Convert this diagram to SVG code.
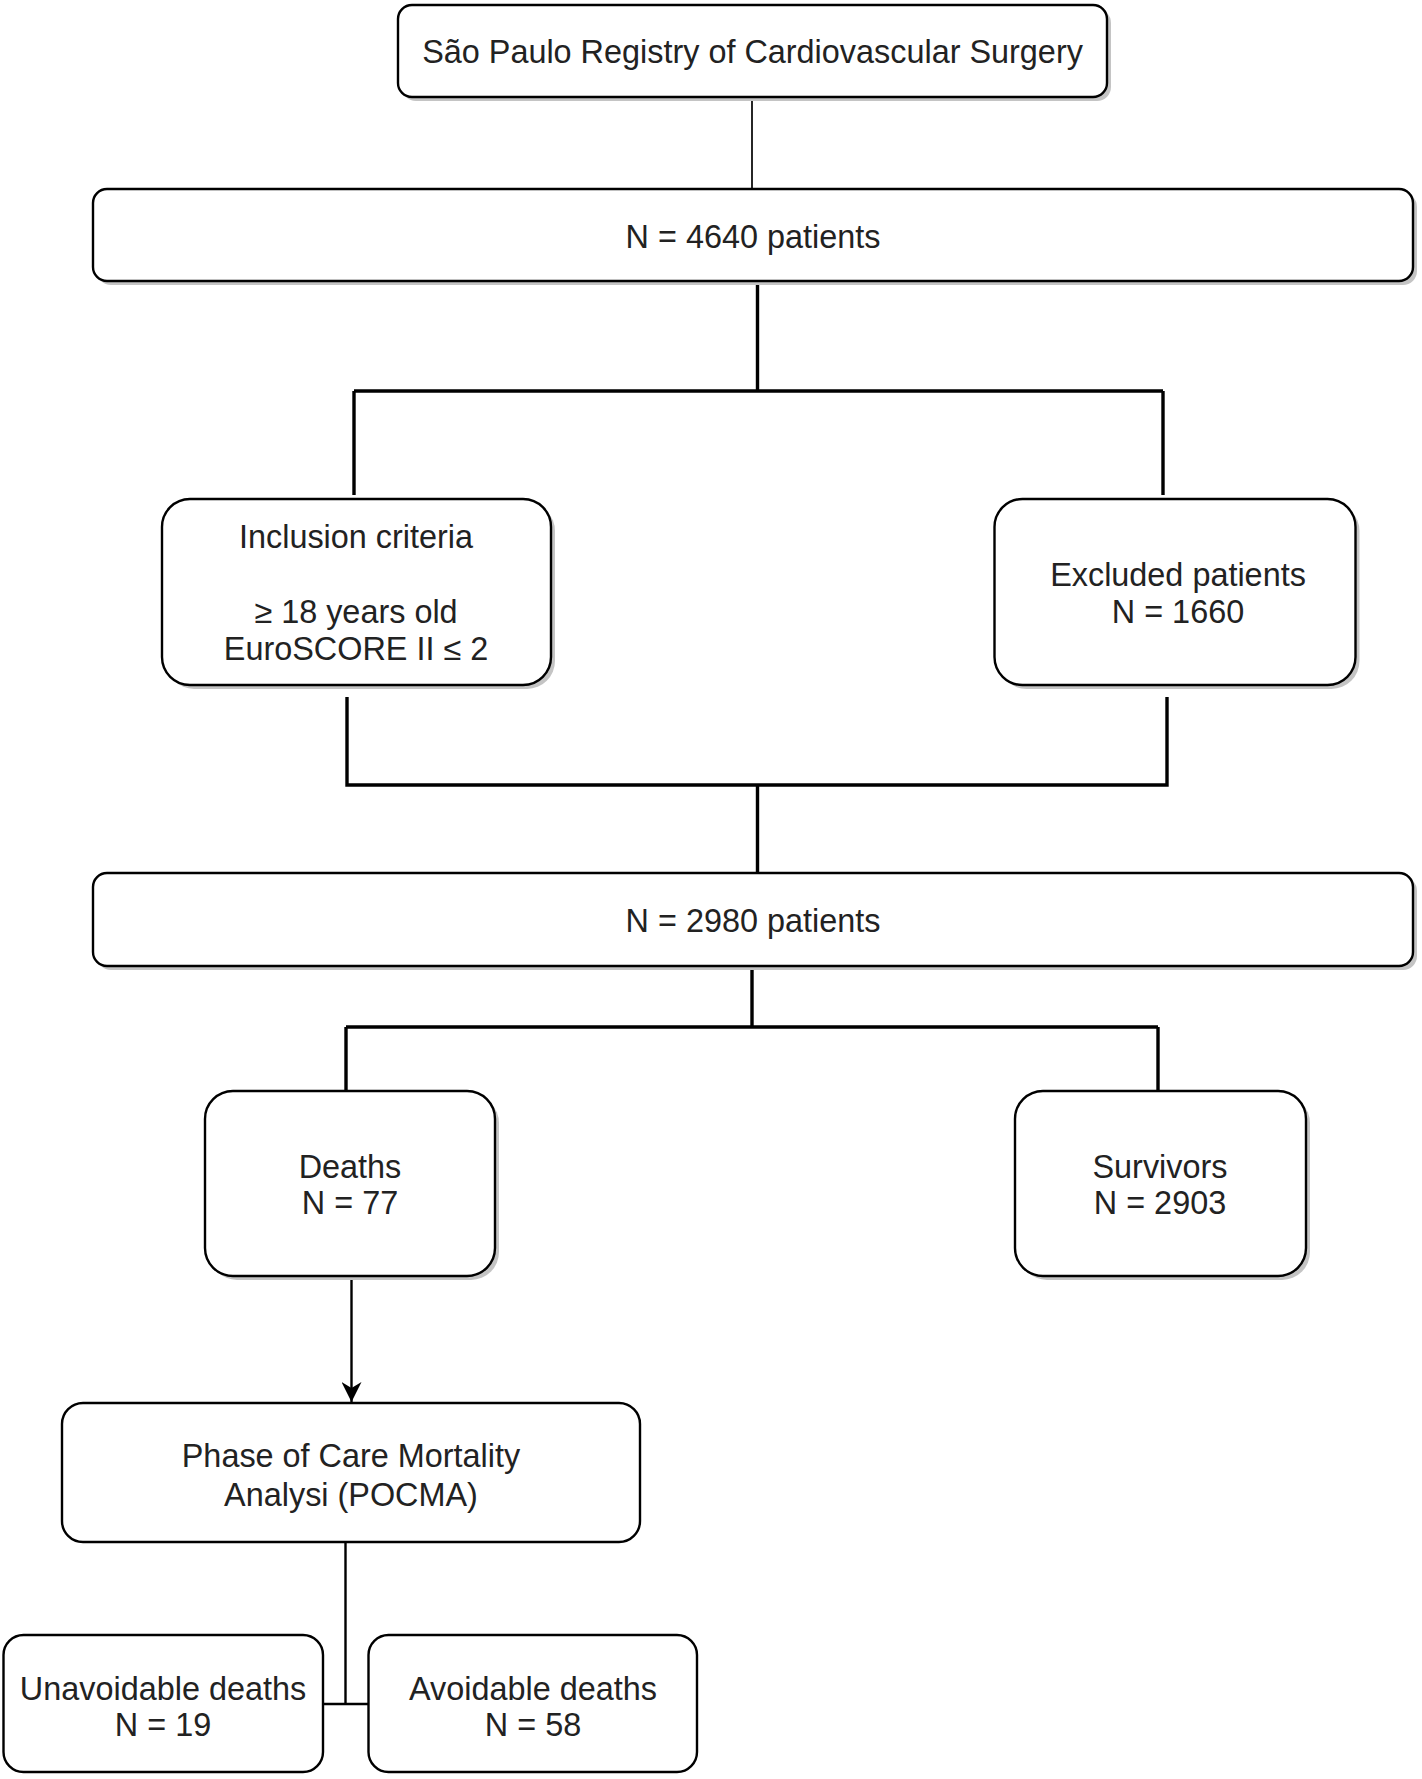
<svg xmlns="http://www.w3.org/2000/svg" width="1422" height="1779" viewBox="0 0 1422 1779">
<style>
.box{fill:#fff;stroke:#000;stroke-width:2.4}
.sh{fill:#c4c4c4}
.t{font-family:"Liberation Sans",Arial,sans-serif;font-size:32.4px;fill:#222;text-anchor:middle}
.thin{stroke:#000;stroke-width:1.7;fill:none}
.thick{stroke:#000;stroke-width:3.4;fill:none}
.med{stroke:#000;stroke-width:2.4;fill:none}
</style>
<defs>
<marker id="arr" viewBox="0 0 20 20" refX="20" refY="10" markerWidth="20" markerHeight="20" markerUnits="userSpaceOnUse" orient="auto">
<path d="M0,0 L20,10 L0,20 L6,10 Z" fill="#000"/>
</marker>
</defs>
<rect width="1422" height="1779" fill="#fff"/>
<g id="connectors">
<line class="thin" x1="752" y1="96" x2="752" y2="189"/>
<path class="thick" d="M757.5,281 V391 M354,391 H1163 M354,391 V495 M1163,391 V495"/>
<path class="thick" d="M347,697 V785 H1167 V697 M757.5,785 V873"/>
<path class="thick" d="M752,966 V1027 M346,1027 H1158 M346,1027 V1091 M1158,1027 V1091"/>
<line class="med" x1="351.5" y1="1276" x2="351.5" y2="1402" marker-end="url(#arr)"/>
<path class="med" d="M345.5,1542 V1704 M323,1704 H368.5"/>
</g>
<g id="n_registry">
<rect class="sh" x="402" y="9" width="709" height="92" rx="14"/>
<rect class="box" x="398" y="5" width="709" height="92" rx="14"/>
<text class="t" x="752.5" y="63">São Paulo Registry of Cardiovascular Surgery</text>
</g>
<g id="n_4640">
<rect class="sh" x="97" y="193" width="1320" height="92" rx="14"/>
<rect class="box" x="93" y="189" width="1320" height="92" rx="14"/>
<text class="t" x="753" y="248">N = 4640 patients</text>
</g>
<g id="n_inclusion">
<rect class="sh" x="166" y="503" width="389" height="186" rx="28"/>
<rect class="box" x="162" y="499" width="389" height="186" rx="28"/>
<text class="t" x="356" y="548">Inclusion criteria</text>
<text class="t" x="356" y="623">≥ 18 years old</text>
<text class="t" x="356" y="660">EuroSCORE II ≤ 2</text>
</g>
<g id="n_excluded">
<rect class="sh" x="998.5" y="503" width="361" height="186" rx="28"/>
<rect class="box" x="994.5" y="499" width="361" height="186" rx="28"/>
<text class="t" x="1178" y="586">Excluded patients</text>
<text class="t" x="1178" y="623">N = 1660</text>
</g>
<g id="n_2980">
<rect class="sh" x="97" y="877" width="1320" height="93" rx="14"/>
<rect class="box" x="93" y="873" width="1320" height="93" rx="14"/>
<text class="t" x="753" y="932">N = 2980 patients</text>
</g>
<g id="n_deaths">
<rect class="sh" x="209" y="1095" width="290" height="185" rx="28"/>
<rect class="box" x="205" y="1091" width="290" height="185" rx="28"/>
<text class="t" x="350" y="1178">Deaths</text>
<text class="t" x="350" y="1214">N = 77</text>
</g>
<g id="n_survivors">
<rect class="sh" x="1019" y="1095" width="291" height="185" rx="28"/>
<rect class="box" x="1015" y="1091" width="291" height="185" rx="28"/>
<text class="t" x="1160" y="1178">Survivors</text>
<text class="t" x="1160" y="1214">N = 2903</text>
</g>
<g id="n_pocma">
<rect class="box" x="62" y="1403" width="578" height="139" rx="21"/>
<text class="t" x="351" y="1467">Phase of Care Mortality</text>
<text class="t" x="351" y="1506">Analysi (POCMA)</text>
</g>
<g id="n_unavoidable">
<rect class="box" x="3.5" y="1635" width="319.5" height="137" rx="20"/>
<text class="t" x="163" y="1700">Unavoidable deaths</text>
<text class="t" x="163" y="1736">N = 19</text>
</g>
<g id="n_avoidable">
<rect class="box" x="368.5" y="1635" width="328.5" height="137" rx="20"/>
<text class="t" x="533" y="1700">Avoidable deaths</text>
<text class="t" x="533" y="1736">N = 58</text>
</g>
</svg>
